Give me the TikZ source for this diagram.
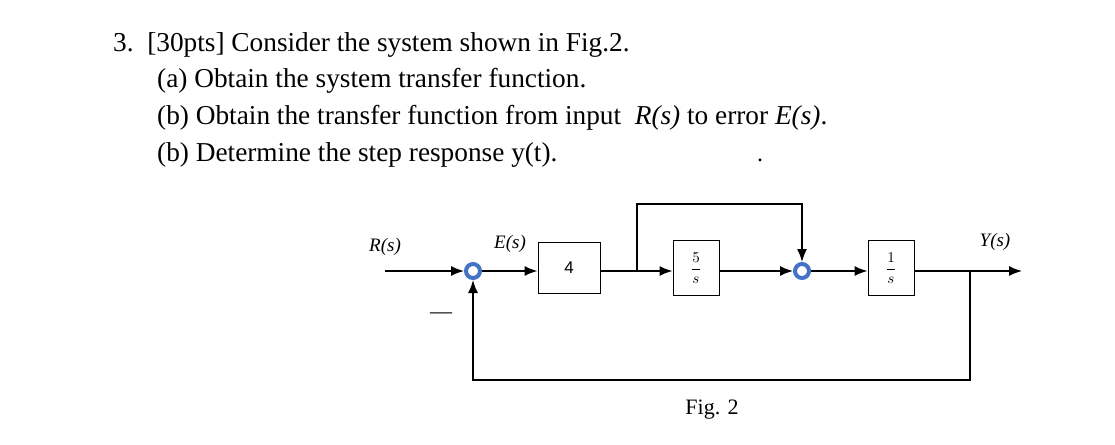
\documentclass[tikz,border=0pt]{standalone}
\usepackage{fontspec}
\usepackage{graphicx}
\setmainfont{Liberation Serif}
\setsansfont{Liberation Sans}
\usetikzlibrary{arrows.meta}
\definecolor{sumblue}{RGB}{68,114,196}
\begin{document}
\begin{tikzpicture}[x=1pt,y=-1pt,
  txt/.style={anchor=base west, font=\fontsize{27.3}{30}\selectfont, inner sep=0},
  lbl/.style={font=\fontsize{19}{22}\selectfont\itshape, inner sep=0},
  block/.style={draw, line width=1pt, minimum width=46pt, minimum height=55pt, inner sep=0},
  sum/.style={circle, draw=sumblue, line width=4pt, minimum size=14pt, inner sep=0},
  arr/.style={-{Latex[length=13pt,width=10pt]}, line width=1.5pt},
  line/.style={line width=1.5pt}]
\useasboundingbox (0,0) rectangle (1115,444);
% question text
\node[txt] (q1) at (113,52) {3.\ \ [30pts] Consider the system shown in Fig.2.};
\node[txt] (q2) at (157,87) {(a) Obtain the system transfer function.};
\node[txt] (q3) at (157,124) {(b) Obtain the transfer function from input \ \textit{R(s)} to error \textit{E(s)}.};
\node[txt] (q4) at (157,161) {(b) Determine the step response y(t).};
\node[inner sep=0, font=\fontsize{24}{28}\selectfont] (dot) at (760,160) {.};
% blocks
\node[sum] (s1) at (473,271) {};
\node[block, minimum width=62pt, minimum height=51pt, font=\sffamily\fontsize{17}{18}\selectfont] (g1) at (569,268) {\raisebox{-6pt}{4}};
\node[block] (g2) at (696,268) {\scalebox{1.5}{$\displaystyle\frac{5}{s}$}};
\node[sum] (s2) at (802,271) {};
\node[block] (g3) at (891,268) {\scalebox{1.5}{$\displaystyle\frac{1}{s}$}};
\coordinate (b1) at (637,271);
\coordinate (b2) at (970,271);
\coordinate (in) at (385,271);
\coordinate (out) at (1022,271);
% connectors
\draw[arr] (in) -- (s1);
\draw[arr] (s1) -- (g1.west |- s1);
\draw[line] (g1.east |- b1) -- (b1);
\draw[arr] (b1) -- (g2.west |- b1);
\draw[arr] (g2.east |- s2) -- (s2);
\draw[arr] (b1) -- (637,204) -- (802,204) -- (s2);
\draw[arr] (s2) -- (g3.west |- s2);
\draw[arr] (g3.east |- b2) -- (out);
\draw[arr] (b2) -- (970,380) -- (473,380) -- (s1);
% labels
\node[lbl] (lr) at (385,247) {R(s)};
\node[lbl] (le) at (510,244) {E(s)};
\node[lbl] (ly) at (995,242) {Y(s)};
\node[inner sep=0, font=\fontsize{22}{22}\selectfont] (minus) at (441,316) {---};
\node[inner sep=0, font=\fontsize{22}{24}\selectfont] (fig) at (712,410) {Fig. 2};
\end{tikzpicture}
\end{document}
